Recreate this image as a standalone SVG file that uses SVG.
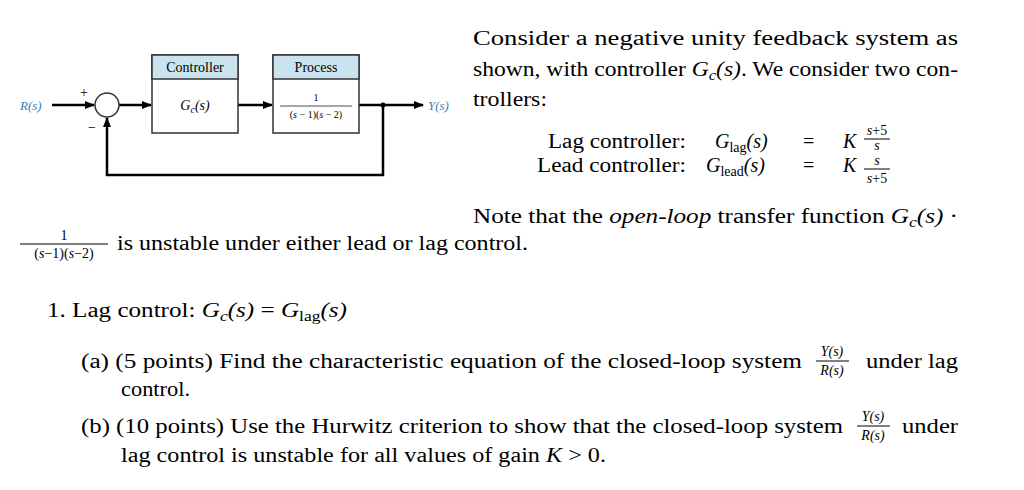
<svg xmlns="http://www.w3.org/2000/svg" width="1024" height="490" viewBox="0 0 1024 490">
<defs>
<marker id="ar" markerWidth="10" markerHeight="8" refX="9" refY="4" orient="auto" markerUnits="userSpaceOnUse"><path d="M0,0 L10,4 L0,8 z" fill="#000"/></marker>
<style>
.t{font-family:"Liberation Serif",serif;font-size:20px;fill:#000}
.s{font-family:"Liberation Serif",serif;font-size:14px;fill:#000}
.f{font-family:"Liberation Serif",serif;font-size:14px;fill:#000}
.b{font-family:"Liberation Serif",serif;font-size:13px;fill:#3a7cc0;font-style:italic}
.box{fill:#fff;stroke:#333;stroke-width:1.5}
.hd{fill:#c9e4ee;stroke:#333;stroke-width:1.5}
.ln{stroke:#000;stroke-width:2.5;fill:none}
</style>
</defs>
<rect width="1024" height="490" fill="#fff"/>
<g id="connectors">
<line class="ln" x1="52" y1="105" x2="94" y2="105" marker-end="url(#ar)"/>
<line class="ln" x1="119" y1="105" x2="151" y2="105" marker-end="url(#ar)"/>
<line class="ln" x1="238" y1="105" x2="272" y2="105" marker-end="url(#ar)"/>
<line class="ln" x1="359" y1="105" x2="423" y2="105" marker-end="url(#ar)"/>
<polyline class="ln" points="383,105 383,175 107,175 107,118" marker-end="url(#ar)"/>
<circle cx="383" cy="105" r="2.5" fill="#000"/>
</g>
<g id="sum"><circle cx="107" cy="105" r="12" fill="#fff" stroke="#333" stroke-width="1.5"/>
<text class="s" x="80" y="97">+</text><text class="s" x="88" y="132">−</text></g>
<g id="R"><text class="b" x="20" y="110">R(s)</text></g>
<g id="Y"><text class="b" x="428" y="110">Y(s)</text></g>
<g id="controller"><rect class="box" x="152" y="55" width="86" height="78"/><rect class="hd" x="152" y="55" width="86" height="24"/>
<text class="s" x="195" y="72" text-anchor="middle">Controller</text>
<text class="s" x="195" y="110" text-anchor="middle" font-style="italic">G<tspan font-size="10" dy="3">c</tspan><tspan dy="-3">(s)</tspan></text></g>
<g id="process"><rect class="box" x="273" y="55" width="86" height="78"/><rect class="hd" x="273" y="55" width="86" height="24"/>
<text class="s" x="316" y="72" text-anchor="middle">Process</text>
<text x="316" y="101" text-anchor="middle" font-family="Liberation Serif,serif" font-size="10">1</text>
<line x1="280" y1="106" x2="352" y2="106" stroke="#000" stroke-width="0.7"/>
<text x="316" y="118" text-anchor="middle" font-family="Liberation Serif,serif" font-size="10">(<tspan font-style="italic">s</tspan> − 1)(<tspan font-style="italic">s</tspan> − 2)</text></g>
<g id="text">
<text class="t" x="473" y="45" textLength="485" lengthAdjust="spacingAndGlyphs">Consider a negative unity feedback system as</text>
<text class="t" x="473" y="76" textLength="485" lengthAdjust="spacingAndGlyphs">shown, with controller <tspan font-style="italic">G<tspan font-size="14" dy="4">c</tspan><tspan dy="-4">(s)</tspan></tspan>. We consider two con-</text>
<text class="t" x="473" y="106" textLength="74" lengthAdjust="spacingAndGlyphs">trollers:</text>
<text class="t" x="548" y="148" textLength="138" lengthAdjust="spacingAndGlyphs">Lag controller:</text>
<text class="t" x="715" y="148" font-style="italic">G<tspan font-size="14" dy="4" font-style="normal">lag</tspan><tspan dy="-4">(s)</tspan></text>
<text class="t" x="803" y="148">=</text>
<text class="t" x="843" y="148" font-style="italic">K</text>
<text x="877" y="135" text-anchor="middle" class="f"><tspan font-style="italic">s</tspan>+5</text>
<line x1="864" y1="139" x2="890" y2="139" stroke="#000"/>
<text x="877" y="150" text-anchor="middle" class="f" font-style="italic">s</text>
<text class="t" x="537" y="172" textLength="149" lengthAdjust="spacingAndGlyphs">Lead controller:</text>
<text class="t" x="706" y="172" font-style="italic">G<tspan font-size="14" dy="4" font-style="normal">lead</tspan><tspan dy="-4">(s)</tspan></text>
<text class="t" x="803" y="172">=</text>
<text class="t" x="843" y="172" font-style="italic">K</text>
<text x="877" y="165" text-anchor="middle" class="f" font-style="italic">s</text>
<line x1="864" y1="169" x2="890" y2="169" stroke="#000"/>
<text x="877" y="183" text-anchor="middle" class="f"><tspan font-style="italic">s</tspan>+5</text>
<text class="t" x="473" y="223" textLength="485" lengthAdjust="spacingAndGlyphs">Note that the <tspan font-style="italic">open-loop</tspan> transfer function <tspan font-style="italic">G<tspan font-size="14" dy="4">c</tspan><tspan dy="-4">(s)</tspan></tspan> ·</text>
<text x="64" y="240" text-anchor="middle" class="f">1</text>
<line x1="20" y1="244" x2="108" y2="244" stroke="#000"/>
<text x="64" y="258" text-anchor="middle" class="f">(<tspan font-style="italic">s</tspan>−1)(<tspan font-style="italic">s</tspan>−2)</text>
<text class="t" x="117" y="250" textLength="411" lengthAdjust="spacingAndGlyphs">is unstable under either lead or lag control.</text>
<text class="t" x="47" y="317" textLength="300" lengthAdjust="spacingAndGlyphs">1.  Lag control: <tspan font-style="italic">G<tspan font-size="14" dy="4">c</tspan><tspan dy="-4">(s)</tspan></tspan> = <tspan font-style="italic">G</tspan><tspan font-size="14" dy="4">lag</tspan><tspan dy="-4" font-style="italic">(s)</tspan></text>
<text class="t" x="81" y="368" textLength="721" lengthAdjust="spacingAndGlyphs">(a)  (5 points) Find the characteristic equation of the closed-loop system</text>
<text x="832" y="356" text-anchor="middle" class="f" font-style="italic">Y(s)</text>
<line x1="816" y1="361" x2="849" y2="361" stroke="#000"/>
<text x="832" y="375" text-anchor="middle" class="f" font-style="italic">R(s)</text>
<text class="t" x="866" y="368" textLength="92" lengthAdjust="spacingAndGlyphs">under lag</text>
<text class="t" x="121" y="396" textLength="69" lengthAdjust="spacingAndGlyphs">control.</text>
<text class="t" x="81" y="433" textLength="762" lengthAdjust="spacingAndGlyphs">(b)  (10 points) Use the Hurwitz criterion to show that the closed-loop system</text>
<text x="873" y="421" text-anchor="middle" class="f" font-style="italic">Y(s)</text>
<line x1="857" y1="426" x2="890" y2="426" stroke="#000"/>
<text x="873" y="440" text-anchor="middle" class="f" font-style="italic">R(s)</text>
<text class="t" x="902" y="433" textLength="56" lengthAdjust="spacingAndGlyphs">under</text>
<text class="t" x="121" y="462" textLength="485" lengthAdjust="spacingAndGlyphs">lag control is unstable for all values of gain <tspan font-style="italic">K</tspan> &gt; 0.</text>
</g>
</svg>
